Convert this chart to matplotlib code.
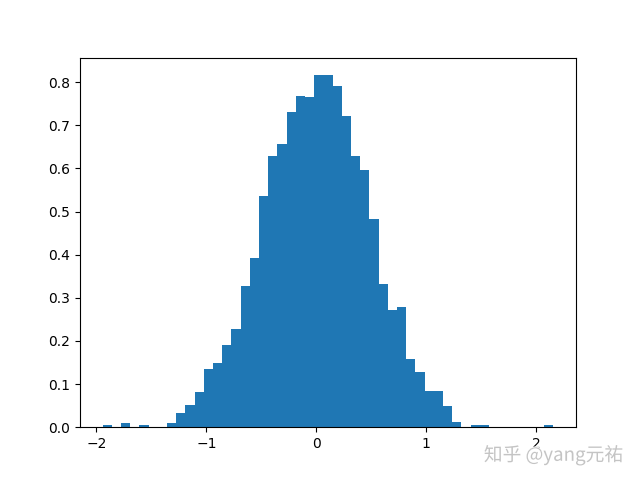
import numpy as np
import matplotlib
matplotlib.use("Agg")
import matplotlib.pyplot as plt
import matplotlib.patheffects as pe

# Histogram (density): 49 bins
bin_min = -1.943
bin_max = 2.155
n_bins = 49
heights = [0.0046, 0, 0.009, 0, 0.0046, 0, 0, 0.009, 0.032, 0.051,
           0.082, 0.136, 0.149, 0.190, 0.227, 0.328, 0.393, 0.535, 0.629, 0.657,
           0.731, 0.768, 0.765, 0.816, 0.816, 0.791, 0.721, 0.629, 0.597, 0.483,
           0.333, 0.271, 0.278, 0.157, 0.128, 0.085, 0.085, 0.048, 0.013, 0,
           0.0046, 0.0046, 0, 0, 0, 0, 0, 0, 0.0046]

watermark = "知乎 @yang元祐"

edges = np.linspace(bin_min, bin_max, n_bins + 1)
centers = (edges[:-1] + edges[1:]) / 2

fig, ax = plt.subplots(figsize=(6.4, 4.8), dpi=100)
ax.hist(centers, bins=edges, weights=heights, color="#1f77b4")

fig.text(0.756, 0.040, watermark, fontsize=13.5, color="#c4c4c4",
         family=["Noto Sans CJK SC", "DejaVu Sans"],
         path_effects=[pe.withStroke(linewidth=1.2, foreground="white")])

fig.savefig("out.png", dpi=100)
